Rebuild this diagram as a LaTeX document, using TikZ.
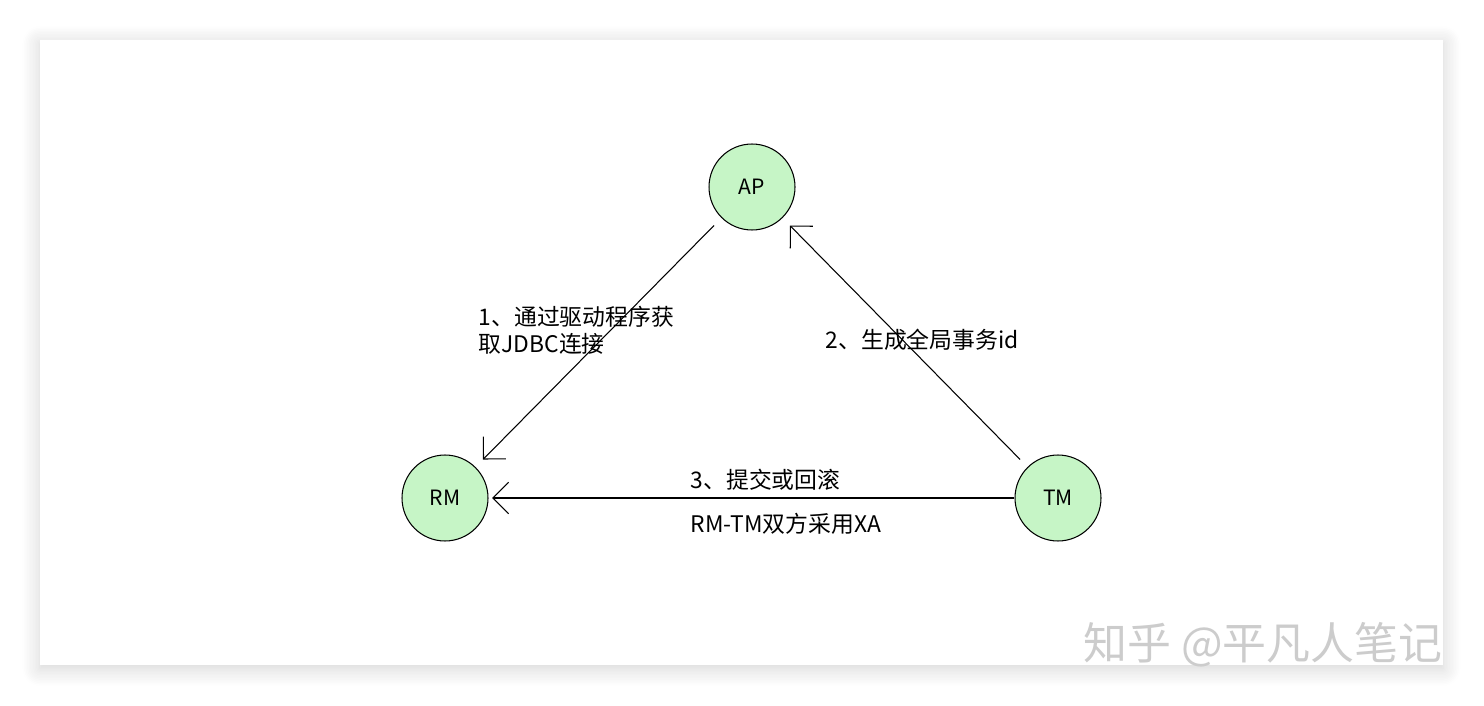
\documentclass[tikz,border=0pt]{standalone}
\usepackage{fontspec}
\setmainfont{Noto Sans CJK SC}
\usetikzlibrary{arrows.meta,shadows.blur}
\definecolor{nodegreen}{HTML}{C6F5C6}
\begin{document}
\begin{tikzpicture}[x=0.02cm,y=-0.02cm,>={Straight Barb[length=9pt,width=18pt,line width=0.6pt]},
	thick,main node/.style={circle,draw,fill=nodegreen,line width=0.6pt,minimum size=1.72cm,inner sep=0pt,font=\fontsize{12}{13}\selectfont},
	lbl/.style={font=\fontsize{13}{15.5}\selectfont,align=left,anchor=west,inner sep=0pt},
	link/.style={->,line width=0.6pt,shorten <=6pt,shorten >=6pt}]
	\useasboundingbox (0,0) rectangle (1484,706);
	\fill[white,blur shadow={shadow blur steps=12,shadow blur radius=10pt,shadow xshift=0pt,shadow yshift=-2pt,shadow opacity=18}] (40,40) rectangle (1443,665);
	
	\node[main node] (ap) at (752,187) {AP};
	\node[main node] (rm) at (445,498) {RM};
	\node[main node] (tm) at (1058,498) {TM};
	
	\draw[link] (ap) -- (rm);
	\draw[link] (tm) -- (ap);
	\draw[->,line width=0.6pt,shorten >=2pt] (tm) -- (rm);
	
	\node[lbl] (l1) at (478,330) {1、通过驱动程序获\\取JDBC连接};
	\node[lbl] (l2) at (825,340) {2、生成全局事务id};
	\node[lbl] (l3) at (690,480) {3、提交或回滚};
	\node[lbl] (l4) at (690,524) {RM-TM双方采用XA};
	\node[lbl,text=gray!40,font=\fontsize{25}{28}\selectfont] (wm) at (1083,645) {知乎 @平凡人笔记};
\end{tikzpicture}
\end{document}
